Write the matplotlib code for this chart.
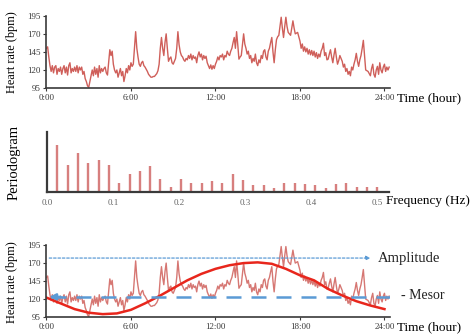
import numpy as np
import matplotlib
matplotlib.use('Agg')
import matplotlib.pyplot as plt

plt.rcParams['font.family'] = ['Liberation Serif', 'DejaVu Serif']

# heart rate, one reading every 5 minutes (12 per hour)
hr_bpm = [
    150, 152, 138, 126, 118, 126, 116, 124, 126, 114, 122, 118,
    124, 114, 122, 126, 116, 124, 113, 126, 130, 116, 122, 118,
    124, 118, 126, 116, 124, 120, 124, 114, 118, 108, 104, 98,
    96, 104, 112, 120, 112, 124, 114, 122, 110, 126, 116, 122,
    118, 122, 124, 116, 113, 131, 148, 140, 146, 128, 120, 116,
    120, 110, 116, 122, 112, 118, 104, 112, 122, 116, 126, 120,
    130, 125, 128, 150, 173, 150, 138, 128, 125, 130, 132, 126,
    124, 121, 118, 114, 112, 110, 110, 111, 111, 113, 115, 119,
    128, 150, 165, 150, 140, 158, 170, 150, 132, 136, 138, 130,
    128, 132, 136, 150, 173, 155, 145, 140, 138, 134, 132, 136,
    134, 140, 136, 142, 134, 140, 136, 138, 130, 140, 145, 138,
    142, 134, 140, 136, 139, 130, 126, 122, 127, 121, 126, 122,
    128, 132, 138, 134, 140, 138, 142, 134, 140, 138, 146, 142,
    140, 146, 150, 158, 165, 150, 173, 155, 135, 138, 140, 155,
    170, 156, 150, 142, 146, 136, 140, 130, 136, 132, 142, 130,
    126, 134, 130, 140, 136, 146, 148, 138, 134, 146, 150, 158,
    165, 145, 130, 148, 162, 166, 168, 180, 193, 178, 165, 180,
    193, 180, 172, 170, 168, 178, 188, 178, 170, 171, 172, 166,
    160, 150, 156, 146, 152, 145, 150, 142, 148, 141, 147, 140,
    146, 138, 144, 136, 142, 138, 146, 150, 157, 140, 144, 134,
    135, 142, 148, 138, 130, 141, 150, 138, 128, 133, 140, 136,
    132, 124, 128, 118, 122, 114, 118, 112, 124, 120, 128, 134,
    143, 132, 125, 134, 140, 150, 161, 140, 120, 119, 118, 115,
    112, 122, 128, 114, 110, 120, 125, 114, 130, 120, 116, 124,
    128, 118, 124, 120, 124,
]
hr_hours = np.arange(len(hr_bpm)) / 12.0

# cosinor fit read hourly
fit_hours = list(range(25))
fit_bpm = [122, 114, 106, 101, 99, 100, 105, 114, 124, 135, 146, 155, 162,
           167, 170, 171, 169, 162, 153, 146, 134, 125, 117, 111, 106]
mesor = 123
amp_level = 177

# periodogram
freqs = np.arange(1, 33) / 64.0
power = [142, 80, 118, 86, 96, 82, 28, 53, 63, 79, 40, 16, 39, 28, 26, 33,
         28, 53, 37, 20, 20, 11, 26, 26, 23, 21, 13, 23, 28, 15, 16, 14]

time_ticks = [0, 6, 12, 18, 24]
time_labels = ['0:00', '6:00', '12:00', '18:00', '24:00']
hr_ticks = [95, 120, 145, 170, 195]
freq_ticks = [0.0, 0.1, 0.2, 0.3, 0.4, 0.5]

line_c = '#cf5f5a'
spine_c = '#3a3a3a'
blue = '#5b9bd5'

fig = plt.figure(figsize=(4.74, 3.36), dpi=100)


def style(ax):
    for s in ['top', 'right']:
        ax.spines[s].set_visible(False)
    for s in ['left', 'bottom']:
        ax.spines[s].set_color(spine_c)
        ax.spines[s].set_linewidth(1.2)
    ax.tick_params(labelsize=6.5, colors=spine_c, length=2, width=0.8, pad=2)


def hr_axes(rect):
    ax = fig.add_axes(rect)
    style(ax)
    ax.set_xlim(0, 24.4)
    ax.set_ylim(95, 195)
    ax.set_yticks(hr_ticks)
    ax.set_xticks(time_ticks)
    ax.set_xticklabels(time_labels)
    return ax


ax1 = hr_axes([0.098, 0.738, 0.725, 0.215])
ax1.plot(hr_hours, hr_bpm, color=line_c, lw=1.0)

ax2 = fig.add_axes([0.099, 0.4286, 0.722, 0.178])
style(ax2)
ax2.spines['left'].set_linewidth(1.6)
ax2.spines['bottom'].set_linewidth(1.6)
ax2.vlines(freqs, 0, power, color='#d77f7e', lw=1.7)
ax2.set_xlim(0, 0.518)
ax2.set_ylim(0, 180)
ax2.set_yticks([])
ax2.set_xticks(freq_ticks)
ax2.set_xticklabels([f'{f:.1f}' for f in freq_ticks], color='#666666')
ax2.tick_params(axis='x', length=0, pad=5)

ax3 = hr_axes([0.098, 0.0565, 0.725, 0.214])
ax3.plot(hr_hours, hr_bpm, color=line_c, lw=1.0, alpha=0.85)
ax3.plot(fit_hours, fit_bpm, color='#e8261c', lw=1.8)
ax3.plot([0.3, 24.4], [mesor, mesor], color=blue, lw=1.8, dashes=(6, 4))
ax3.annotate('', xy=(0, mesor), xytext=(1.2, mesor),
             arrowprops=dict(arrowstyle='-|>', color=blue, lw=1.8,
                             mutation_scale=9))
ax3.annotate('', xy=(23.2, amp_level), xytext=(0, amp_level),
             arrowprops=dict(arrowstyle='-|>', color=blue, lw=0.9,
                             linestyle=(0, (2, 1.5)), mutation_scale=6))
ax3.text(23.5, amp_level, 'Amplitude', fontsize=10.5, va='center',
         ha='left', color='#222222', clip_on=False)
ax3.text(25.2, mesor + 2, '- Mesor', fontsize=10, va='center',
         ha='left', color='#222222', clip_on=False)

# axis titles
fig.text(397 / 474, 1 - 98 / 336, 'Time (hour)', fontsize=9.5, va='center')
fig.text(386 / 474, 1 - 201 / 336, 'Frequency (Hz)', fontsize=9.5, va='center')
fig.text(397 / 474, 1 - 327 / 336, 'Time (hour)', fontsize=9.5, va='center')
fig.text(12 / 474, 1 - 52 / 336, 'Heart rate (bpm)', fontsize=8.8,
         rotation=90, ha='center', va='center')
fig.text(14 / 474, 1 - 162 / 336, 'Periodogram', fontsize=10.5,
         rotation=90, ha='center', va='center')
fig.text(12 / 474, 1 - 282 / 336, 'Heart rate (bpm)', fontsize=8.8,
         rotation=90, ha='center', va='center')

fig.savefig('out.png', dpi=100)
